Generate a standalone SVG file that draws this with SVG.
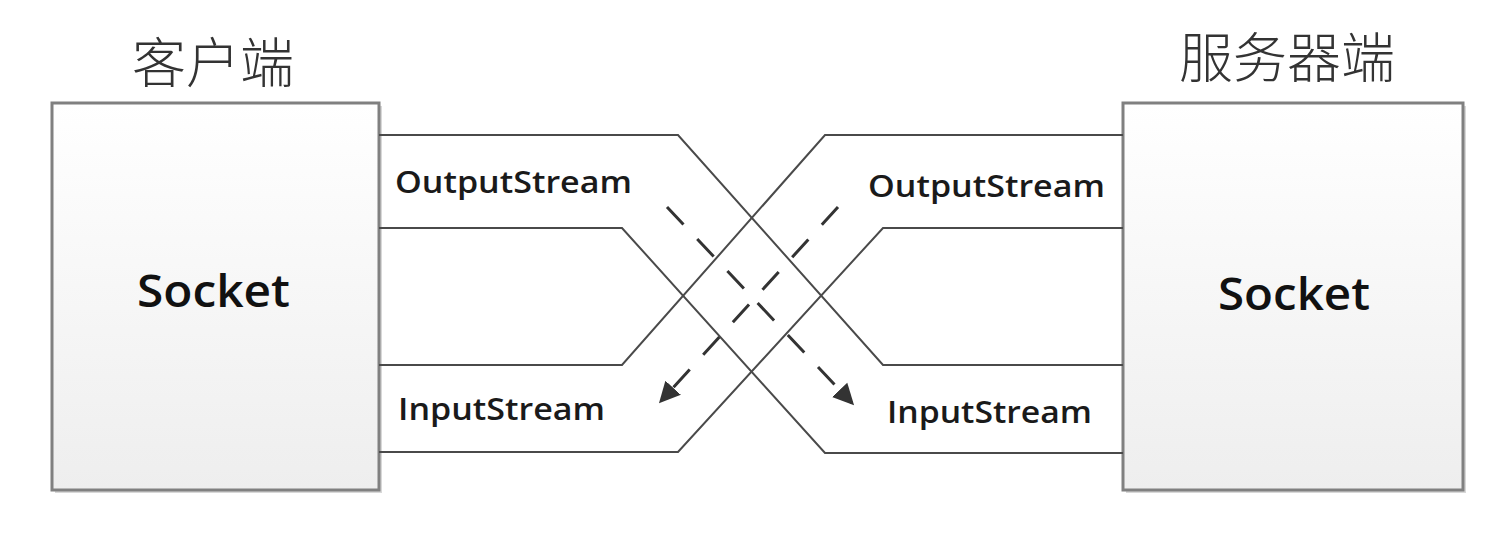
<svg xmlns="http://www.w3.org/2000/svg" width="1502" height="545" viewBox="0 0 1502 545">
<style>
.box{fill:url(#g);stroke:#808080;stroke-width:3}
.shadow{fill:#d8d8d8}
.pipe{fill:none;stroke:#4a4a4a;stroke-width:2}
.flow{fill:none;stroke:#333;stroke-width:3;stroke-dasharray:24 20}
.lbl{font-family:"Open Sans","Liberation Sans",sans-serif;font-weight:600;font-size:30px;fill:#1a1a1a}
.sock{font-family:"Open Sans","Liberation Sans",sans-serif;font-weight:600;font-size:46px;fill:#111}
.title{font-family:"Noto Sans CJK SC",sans-serif;font-weight:300;font-size:54px;fill:#333}
</style>
<defs>
<linearGradient id="g" x1="0" y1="0" x2="0" y2="1">
<stop offset="0" stop-color="#ffffff"/>
<stop offset="1" stop-color="#eeeeee"/>
</linearGradient>
<marker id="ah" markerWidth="8" markerHeight="8" refX="6" refY="4" orient="auto" markerUnits="strokeWidth">
<path d="M0,0.5 L7,4 L0,7.5 Z" fill="#333"/>
</marker>
</defs>
<rect width="1502" height="545" fill="#fff"/>
<text class="title" x="213" y="83" text-anchor="middle">客户端</text>
<text class="title" x="1287" y="78" text-anchor="middle">服务器端</text>
<g id="client">
<rect class="shadow" x="55" y="106" width="327" height="387"/>
<rect class="box" x="52" y="103" width="327" height="387"/>
<text class="sock" x="137" y="307" textLength="153" lengthAdjust="spacingAndGlyphs">Socket</text>
</g>
<g id="server">
<rect class="shadow" x="1126" y="106" width="340" height="387"/>
<rect class="box" x="1123" y="103" width="340" height="387"/>
<text class="sock" x="1218" y="310" textLength="152" lengthAdjust="spacingAndGlyphs">Socket</text>
</g>
<g id="connectors">
<polyline class="pipe" points="379,135 678,135 883,365 1123,365"/>
<polyline class="pipe" points="379,228 622,228 825,453 1123,453"/>
<polyline class="pipe" points="379,365 622,365 825,135 1123,135"/>
<polyline class="pipe" points="379,452 678,452 883,228 1123,228"/>
<line class="flow" x1="667" y1="207" x2="852" y2="403" marker-end="url(#ah)"/>
<line class="flow" x1="838" y1="207" x2="661" y2="401" marker-end="url(#ah)"/>
</g>
<g id="labels">
<text class="lbl" x="395" y="193" textLength="237" lengthAdjust="spacingAndGlyphs">OutputStream</text>
<text class="lbl" x="868" y="197" textLength="237" lengthAdjust="spacingAndGlyphs">OutputStream</text>
<text class="lbl" x="398" y="420" textLength="207" lengthAdjust="spacingAndGlyphs">InputStream</text>
<text class="lbl" x="887" y="423" textLength="205" lengthAdjust="spacingAndGlyphs">InputStream</text>
</g>
</svg>
